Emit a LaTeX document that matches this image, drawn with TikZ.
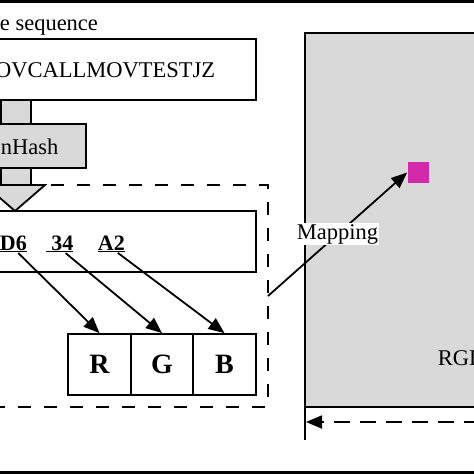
\documentclass[tikz,border=0pt]{standalone}
\usepackage{fontspec}
\setmainfont{Liberation Serif}
\usepackage{tikz}
\usetikzlibrary{arrows.meta}
\definecolor{panelgray}{RGB}{217,217,217}
\definecolor{pixelpink}{RGB}{210,42,170}

\begin{document}
\begin{tikzpicture}[x=1pt, y=-1pt, line width=1.8pt,
		txt/.style={font=\fontsize{22.5}{26}\selectfont, inner sep=0pt},
		lbl/.style={font=\fontsize{22}{26}\selectfont\bfseries, inner sep=0pt},
		cell/.style={draw, minimum width=62.5, minimum height=61, inner sep=0pt, font=\fontsize{28}{32}\selectfont\bfseries},
		tip/.style={arrows={-Triangle[length=16pt, width=13pt]}},
		dashbox/.style={dash pattern=on 13pt off 13pt}]
		\useasboundingbox (0,0) rectangle (474,474);
		\clip (0,0) rectangle (474,474);
		\draw[line width=2.5pt] (0,1.25) -- (474,1.25);
		\draw[line width=3pt] (0,472.5) -- (474,472.5);

		\node[txt, anchor=base west] (seqname) at (-1,30) {e sequence};
		\draw[dashbox] (-20,185) rectangle (268,407);
		\draw[fill=panelgray] (0.9,100) rectangle (31,185);
		\draw (-20,39) rectangle (256,100);
		\node[txt, anchor=east] (opcodes) at (216,70) {OVCALLMOVTESTJZ};
		\draw[fill=panelgray] (-20,124) rectangle (86,168);
		\node[txt, anchor=base west] (hashname) at (0,154) {nHash};
		\draw[fill=panelgray] (-15,185) -- (45,185) -- (15,211) -- cycle;
		\draw (-20,211) rectangle (256,272);

		\node[lbl, anchor=base west] (dsix) at (-1,250) {\underline{D6}};
		\node[lbl, anchor=base west] (tfour) at (45,250) {\underline{\ 34}};
		\node[lbl, anchor=base west] (atwo) at (97,250) {\underline{A2}};
		\node[cell] (r) at (99.5,364.5) {R};
		\node[cell] (g) at (162,364.5) {G};
		\node[cell] (b) at (224.5,364.5) {B};
		\draw[tip] ([xshift=5]dsix.south) -- (r.north);
		\draw[tip] ([xshift=6]tfour.south) -- (g.north);
		\draw[tip] ([xshift=6.5]atwo.south) -- (b.north);

		\draw[fill=panelgray] (305,33) rectangle (490,407);
		\draw (305,407) -- (305,440);
		\node[txt, anchor=base west] (imgname) at (437,365) {RGB};
		\node[fill=pixelpink, minimum size=21, inner sep=0pt] (px) at (418.5,172.5) {};
		\coordinate (map) at (268,296);
		\draw[tip] (map) -- (px.west) node[midway, txt, fill=white, inner sep=1pt] (maplabel) {Mapping};
		\coordinate (wall) at (306,422);
		\draw[tip, dash pattern=on 16pt off 10pt] (480,422) -- (wall);

	\end{tikzpicture}
\end{document}
